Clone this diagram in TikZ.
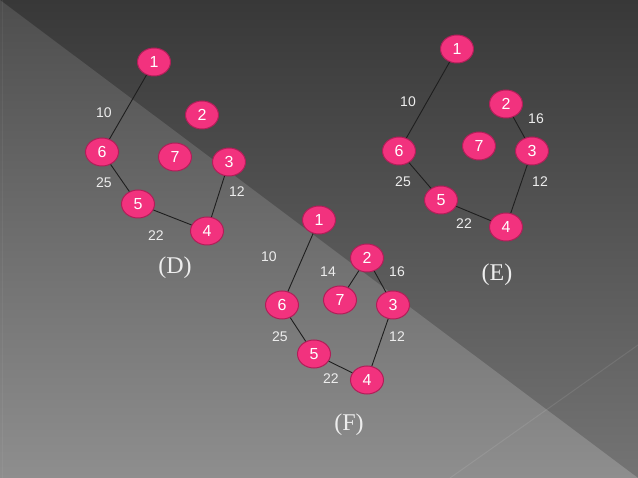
\documentclass[tikz,border=0pt]{standalone}
\usepackage{fontspec}
\setmainfont{Liberation Sans}
\newfontfamily\capfont{Liberation Serif}
\usetikzlibrary{shapes.geometric}
\definecolor{nodepink}{HTML}{F2327E}
\definecolor{nodeedge}{HTML}{B01E58}
\definecolor{edgecol}{HTML}{1E1E1E}
\definecolor{labcol}{HTML}{EDEDED}
\tikzset{
  vtx/.style={ellipse, fill=nodepink, draw=nodeedge, line width=1pt, minimum width=33pt, minimum height=28pt, inner sep=0pt, text=white, font=\fontsize{16}{16}\selectfont},
  conn/.style={draw=edgecol, line width=0.9pt},
  wlab/.style={text=labcol, font=\fontsize{14}{14}\selectfont, inner sep=0pt},
  caption/.style={text=labcol, font=\capfont\fontsize{24}{24}\selectfont, inner sep=0pt}
}
\begin{document}
\begin{tikzpicture}[x=1pt,y=-1pt]
\useasboundingbox (0,0) rectangle (638,478);
% background
\shade[top color={rgb,255:red,56;green,56;blue,56}, bottom color={rgb,255:red,116;green,116;blue,116}] (0,0) rectangle (638,478);
\begin{scope}
\clip (0,0) -- (638,478) -- (0,478) -- cycle;
\shade[top color={rgb,255:red,78;green,78;blue,78}, bottom color={rgb,255:red,142;green,142;blue,142}] (0,0) rectangle (638,478);
\end{scope}
\draw[white, opacity=0.09, line width=1pt] (638,345) -- (450,478);
\draw[white, opacity=0.05, line width=1pt] (2,0) -- (2,478);

% ---------- D ----------
\node[vtx] (d1) at (154,62) {1};
\node[vtx] (d2) at (202,115) {2};
\node[vtx] (d6) at (102,152) {6};
\node[vtx] (d7) at (175,157) {7};
\node[vtx] (d3) at (229,162) {3};
\node[vtx] (d5) at (138,204) {5};
\node[vtx] (d4) at (207,231) {4};
\draw[conn] (d1) -- (d6);
\draw[conn] (d6) -- (d5);
\draw[conn] (d5) -- (d4);
\draw[conn] (d4) -- (d3);
\node[wlab] (dl10) at (104,113) {10};
\node[wlab] (dl25) at (104,183) {25};
\node[wlab] (dl12) at (237,192) {12};
\node[wlab] (dl22) at (156,236) {22};
\node[caption] (dcap) at (175,268) {(D)};

% ---------- E ----------
\node[vtx] (e1) at (457,49) {1};
\node[vtx] (e2) at (506,104) {2};
\node[vtx] (e7) at (479,146) {7};
\node[vtx] (e6) at (399,151) {6};
\node[vtx] (e3) at (532,151) {3};
\node[vtx] (e5) at (441,200) {5};
\node[vtx] (e4) at (506,227) {4};
\draw[conn] (e1) -- (e6);
\draw[conn] (e6) -- (e5);
\draw[conn] (e5) -- (e4);
\draw[conn] (e4) -- (e3);
\draw[conn] (e3) -- (e2);
\node[wlab] (el10) at (408,102) {10};
\node[wlab] (el16) at (536,119) {16};
\node[wlab] (el25) at (403,182) {25};
\node[wlab] (el12) at (540,182) {12};
\node[wlab] (el22) at (464,224) {22};
\node[caption] (ecap) at (497,275) {(E)};

% ---------- F ----------
\node[vtx] (f1) at (319,220) {1};
\node[vtx] (f2) at (367,258) {2};
\node[vtx] (f7) at (340,300) {7};
\node[vtx] (f6) at (282,305) {6};
\node[vtx] (f3) at (393,305) {3};
\node[vtx] (f5) at (314,354) {5};
\node[vtx] (f4) at (367,380) {4};
\draw[conn] (f1) -- (f6);
\draw[conn] (f6) -- (f5);
\draw[conn] (f5) -- (f4);
\draw[conn] (f4) -- (f3);
\draw[conn] (f3) -- (f2);
\draw[conn] (f2) -- (f7);
\node[wlab] (fl10) at (269,257) {10};
\node[wlab] (fl14) at (328,272) {14};
\node[wlab] (fl16) at (397,272) {16};
\node[wlab] (fl25) at (280,337) {25};
\node[wlab] (fl12) at (397,337) {12};
\node[wlab] (fl22) at (331,379) {22};
\node[caption] (fcap) at (349,425) {(F)};
\end{tikzpicture}
\end{document}
